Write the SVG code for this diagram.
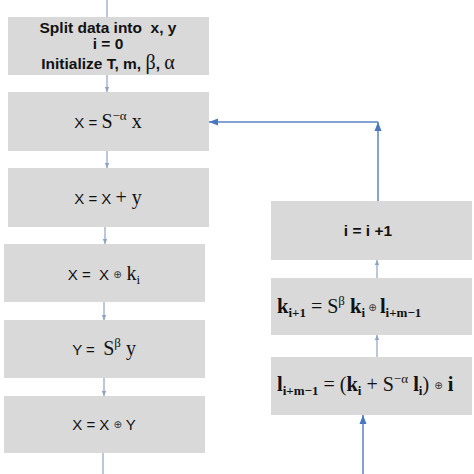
<svg xmlns="http://www.w3.org/2000/svg" width="474" height="474" viewBox="0 0 474 474">
<style>
.box{fill:#d9d9d9;stroke:none}
.sans{font-family:"Liberation Sans",Arial,sans-serif;font-size:15px;fill:#111}
.bsans{font-family:"Liberation Sans",Arial,sans-serif;font-size:15.5px;font-weight:bold;fill:#111}
.serif{font-family:"Liberation Serif","Times New Roman",serif;font-size:20px;fill:#111}
.bserif{font-family:"Liberation Serif","Times New Roman",serif;font-size:20.5px;font-weight:bold;fill:#111}
.sup{font-size:13px}
.sub{font-size:13px}
.op{font-family:"DejaVu Sans",sans-serif;font-size:10px;fill:#333}
.thin{stroke:#8fa2c4;stroke-width:1.2;fill:none}
.blue{stroke:#5b84c4;stroke-width:1.5;fill:none}
</style>
<defs>
<marker id="ah" markerWidth="6" markerHeight="6" refX="5" refY="3" orient="auto" markerUnits="userSpaceOnUse"><path d="M0,0.8 L5,3 L0,5.2 z" fill="#8fa2c4"/></marker>
<marker id="bh" markerWidth="10" markerHeight="8" refX="9" refY="4" orient="auto" markerUnits="userSpaceOnUse"><path d="M0,0.5 L9,4 L0,7.5 z" fill="#4a78c0"/></marker>
</defs>
<g id="connectors">
<line class="thin" x1="107" y1="0" x2="107" y2="17"/>
<line class="thin" x1="107" y1="75" x2="107" y2="92" marker-end="url(#ah)"/>
<line class="thin" x1="107" y1="151" x2="107" y2="168" marker-end="url(#ah)"/>
<line class="thin" x1="105" y1="227" x2="105" y2="244" marker-end="url(#ah)"/>
<line class="thin" x1="104" y1="302" x2="104" y2="320" marker-end="url(#ah)"/>
<line class="thin" x1="104" y1="378" x2="104" y2="396" marker-end="url(#ah)"/>
<line class="thin" x1="103" y1="453" x2="103" y2="474"/>
<line class="thin" x1="377" y1="278" x2="377" y2="260" marker-end="url(#ah)"/>
<line class="thin" x1="377" y1="357" x2="377" y2="335" marker-end="url(#ah)"/>
<line class="blue" x1="363" y1="474" x2="363" y2="415" marker-end="url(#bh)"/>
<line class="blue" x1="378" y1="201" x2="378" y2="122" marker-end="url(#bh)"/>
<line class="blue" x1="378" y1="122" x2="209" y2="122" marker-end="url(#bh)"/>
</g>
<g id="n1">
<rect class="box" x="8" y="17" width="201" height="58"/>
<text class="bsans" x="108" y="33" text-anchor="middle">Split data into&#160; x, y</text>
<text class="bsans" x="108" y="49" text-anchor="middle">i = 0</text>
<text x="108" y="69" text-anchor="middle"><tspan class="bsans">Initialize T, m, </tspan><tspan class="serif">β</tspan><tspan class="bsans">, </tspan><tspan class="serif">α</tspan></text>
</g>
<g id="n2">
<rect class="box" x="8" y="92" width="201" height="59"/>
<text x="108" y="128" text-anchor="middle"><tspan class="sans">X = </tspan><tspan class="serif">S</tspan><tspan class="serif sup" dy="-8">−α</tspan><tspan class="serif" dy="8"> x</tspan></text>
</g>
<g id="n3">
<rect class="box" x="8" y="168" width="201" height="59"/>
<text x="108" y="204" text-anchor="middle"><tspan class="sans">X = X </tspan><tspan class="serif">+ y</tspan></text>
</g>
<g id="n4">
<rect class="box" x="4" y="244" width="201" height="58"/>
<text x="104" y="280" text-anchor="middle"><tspan class="sans">X =&#160; X </tspan><tspan class="op" dy="-2">⊕</tspan><tspan class="serif" dy="2"> k</tspan><tspan class="serif sub" dy="4">i</tspan></text>
</g>
<g id="n5">
<rect class="box" x="4" y="320" width="201" height="58"/>
<text x="104" y="355" text-anchor="middle"><tspan class="sans">Y =&#160; </tspan><tspan class="serif">S</tspan><tspan class="serif sup" dy="-8">β</tspan><tspan class="serif" dy="8"> y</tspan></text>
</g>
<g id="n6">
<rect class="box" x="4" y="396" width="201" height="57"/>
<text x="104" y="430" text-anchor="middle"><tspan class="sans">X = X </tspan><tspan class="op" dy="-2">⊕</tspan><tspan class="sans" dy="2"> Y</tspan></text>
</g>
<g id="n7">
<rect class="box" x="271" y="201" width="201" height="59"/>
<text class="bsans" x="368" y="236" text-anchor="middle">i = i +1</text>
</g>
<g id="n8">
<rect class="box" x="271" y="278" width="201" height="57"/>
<text x="277" y="313"><tspan class="bserif">k</tspan><tspan class="bserif sub" dy="4">i+1</tspan><tspan class="serif" dy="-4"> = S</tspan><tspan class="serif sup" dy="-8">β</tspan><tspan class="bserif" dy="8"> k</tspan><tspan class="bserif sub" dy="4">i</tspan><tspan class="op" dy="-6">&#160;⊕&#160;</tspan><tspan class="bserif" dy="2">l</tspan><tspan class="bserif sub" dy="4">i+m−1</tspan></text>
</g>
<g id="n9">
<rect class="box" x="271" y="357" width="201" height="58"/>
<text x="277" y="391"><tspan class="bserif">l</tspan><tspan class="bserif sub" dy="4">i+m−1</tspan><tspan class="serif" dy="-4"> = (</tspan><tspan class="bserif">k</tspan><tspan class="bserif sub" dy="4">i</tspan><tspan class="serif" dy="-4"> + S</tspan><tspan class="serif sup" dy="-8">−α</tspan><tspan class="bserif" dy="8"> l</tspan><tspan class="bserif sub" dy="4">i</tspan><tspan class="serif" dy="-4">) </tspan><tspan class="op" dy="-2">⊕</tspan><tspan class="bserif" dy="2"> i</tspan></text>
</g>
</svg>
